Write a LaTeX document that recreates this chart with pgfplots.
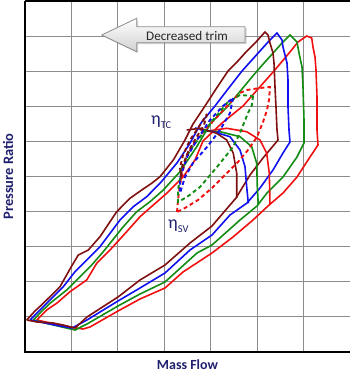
\documentclass[border=0pt]{standalone}
\usepackage{pgfplots}
\pgfplotsset{compat=1.18}
\usepackage{fontspec}
\setmainfont{Carlito}
\usetikzlibrary{shadows}
\definecolor{navy}{RGB}{32,32,110}
\definecolor{cmaroon}{RGB}{128,16,16}
\definecolor{cblue}{RGB}{16,16,240}
\definecolor{cgreen}{RGB}{20,140,20}
\definecolor{cred}{RGB}{240,16,16}
\begin{document}
\begin{tikzpicture}
\begin{axis}[
  at={(0,0)}, anchor=south west,
  scale only axis, width=325bp, height=351bp,
  xmin=0, xmax=325, ymin=0, ymax=351,
  xtick={46.43,92.86,139.29,185.71,232.14,278.57},
  ytick={35.1,70.2,105.3,140.4,175.5,210.6,245.7,280.8,315.9},
  xticklabels={}, yticklabels={},
  major tick length=0pt,
  grid=major, grid style={black!45, line width=1bp},
  axis line style={draw=none},
]
% outer loops
\addplot[cred, line width=1.6bp] coordinates {(11.7,32) (21.7,42) (31.7,48.7) (45,60.3) (61.7,72) (71.7,88.7) (85,102) (101.7,120.3) (115,135.3) (128.3,147) (141.7,158.7) (158.3,175.3) (170,192) (178,211) (197,229) (218,246) (233,263) (249,281) (265,300) (273,310) (281.7,316) (286.7,314) (288,305) (290,295) (291,282) (292,255) (292,222) (293,207) (285,195) (272,175) (258,159) (243,146) (228,132) (208,115) (187,99) (158,80) (140,64) (115,53) (93,41) (65,25) (58,23) (45,25) (30,28) (11.7,32)};
\addplot[cgreen, line width=1.6bp] coordinates {(8.3,32) (16,40) (25,48.7) (41.7,62) (55,75.3) (66.7,87) (78.3,100.3) (98.3,125.3) (111.7,140.3) (125,150.3) (138.3,162) (155,180.3) (171.7,205.3) (186,229) (203,246) (217,263) (232,281) (240,290) (249,300) (257,309) (265,317) (272,310) (274,299) (277,285) (278,265) (279,232) (279,209) (272,195) (258,175) (242,159) (232,146) (215,132) (187,107) (172,99) (140,70) (115,58) (93,46) (62,28) (50,22) (37,25) (20,29) (8.3,32)};
\addplot[cblue, line width=1.6bp] coordinates {(5,32) (14,41) (21.7,48.7) (38.3,65.3) (50,80.3) (61.7,92) (75,105.3) (95,132) (108.3,145.3) (121.7,155.3) (135,168.7) (151.7,188.7) (165,208.7) (176,229) (190,246) (203,263) (217,281) (226,291) (235,301) (244,311) (252,319) (257,312) (258,305) (260,297) (262,289) (263,272) (263,245) (264,222) (265,210) (258,199) (248,182) (235,164) (222,149) (205,137) (187,117) (165,102) (140,79) (115,64) (93,51) (62,32) (47,24) (35,26) (20,29) (5,32)};
\addplot[cmaroon, line width=1.6bp] coordinates {(1.7,32) (10,41) (18.3,48.7) (35,65.3) (46.7,86) (53.3,97) (63.3,102) (75,115.3) (91.7,140.3) (105,153.7) (116.7,162) (126.7,168.7) (135,175.3) (148.3,192) (160,212) (168,228) (180,246) (191,263) (203,281) (212,290) (221,300) (231,310) (240,320) (243,317) (245,309) (248,299) (249,289) (250,265) (251,245) (252,222) (253,212) (238,194) (225,177) (211,154) (187,126) (165,109) (140,87) (115,72) (93,55) (62,35) (50,24) (38,27) (28,29) (12,30) (1.7,32)};
% inner solid (eta TC)
\addplot[cred, line width=1.6bp] coordinates {(183,221) (201.7,223.7) (221.7,220.3) (235,212) (241.7,198.7) (244.3,178.7) (245,147)};
\addplot[cgreen, line width=1.6bp] coordinates {(177,221) (195,220.3) (215,215.3) (226.7,205.3) (231.7,188.7) (232.3,165.3) (233.3,147)};
\addplot[cblue, line width=1.6bp] coordinates {(170,224) (188.3,220.3) (205,215.3) (215,202) (220,185.3) (221.7,165.3) (223.3,148.7)};
\addplot[cmaroon, line width=1.6bp] coordinates {(161.7,222) (175,223.7) (191.7,218.7) (201.7,212) (208.3,198.7) (211.7,178.7) (211.7,154)};
% dashed (eta SV)
\addplot[cred, line width=1.9bp, dash pattern=on 4bp off 3bp] coordinates {(152,140) (153,152) (155,167) (158,182) (162,197) (170,210) (180,222) (192,235) (205,249) (215,259) (222,262) (235,264) (245,265) (244,252) (242,242) (238,230) (232,215) (223,202) (213,190) (200,177) (187,164) (173,152) (160,144) (152,140)};
\addplot[cgreen, line width=1.9bp, dash pattern=on 4bp off 3bp] coordinates {(228,256) (227,247) (223,239) (215,219) (208,205) (192,185) (175,165) (162,155) (153,150) (153,162) (157,185) (165,202) (175,215) (188,232) (202,249) (215,257) (228,256)};
\addplot[cblue, line width=1.9bp, dash pattern=on 4bp off 3bp] coordinates {(208,254) (205,239) (195,222) (182,205) (168,189) (160,175) (156,162) (155,159) (155,174) (162,195) (172,212) (185,232) (198,246) (208,254)};
\addplot[cmaroon, line width=1.9bp, dash pattern=on 4bp off 3bp] coordinates {(182,238) (179,227) (171,214) (163,200) (158,187) (156,177) (155,184) (158,197) (165,212) (175,227) (182,238)};
\end{axis}
\begin{scope}[x=1bp,y=1bp]
\draw[line width=2.5bp] (0,351) -- (0,0) -- (325,0);
\draw[line width=2bp] (0,351) -- (325,351);
\draw[black!45, line width=0.8bp, top color=white, bottom color=black!18, drop shadow={shadow xshift=1.5bp, shadow yshift=-1.5bp, opacity=0.35}]
  (76.7,317) -- (111.7,333.7) -- (111.7,325.3) -- (220,325.3) -- (220,309.3) -- (111.7,309.3) -- (111.7,300.3) -- cycle;
\node[font=\fontsize{13.2}{15}\selectfont, text=black!85] at (162,316.5) {Decreased trim};
\node[rotate=90, font=\bfseries\fontsize{14.5}{16}\selectfont, text=navy] at (-17,175.5) {Pressure Ratio};
\node[font=\bfseries\fontsize{14}{16}\selectfont, text=navy, inner sep=0pt, anchor=base] at (162.5,-17) {Mass Flow};
\node[anchor=base west, inner sep=0pt, text=navy] at (126,228) {{\fontsize{18}{20}\selectfont η}{\fontsize{10.5}{12}\selectfont\raisebox{-4bp}{TC}}};
\node[anchor=base west, inner sep=0pt, text=navy] at (143,124) {{\fontsize{18}{20}\selectfont η}{\fontsize{10.5}{12}\selectfont\raisebox{-4.5bp}{SV}}};
\pgfresetboundingbox
\path[use as bounding box] (-25,-21) rectangle (327,352);
\end{scope}
\end{tikzpicture}
\end{document}
